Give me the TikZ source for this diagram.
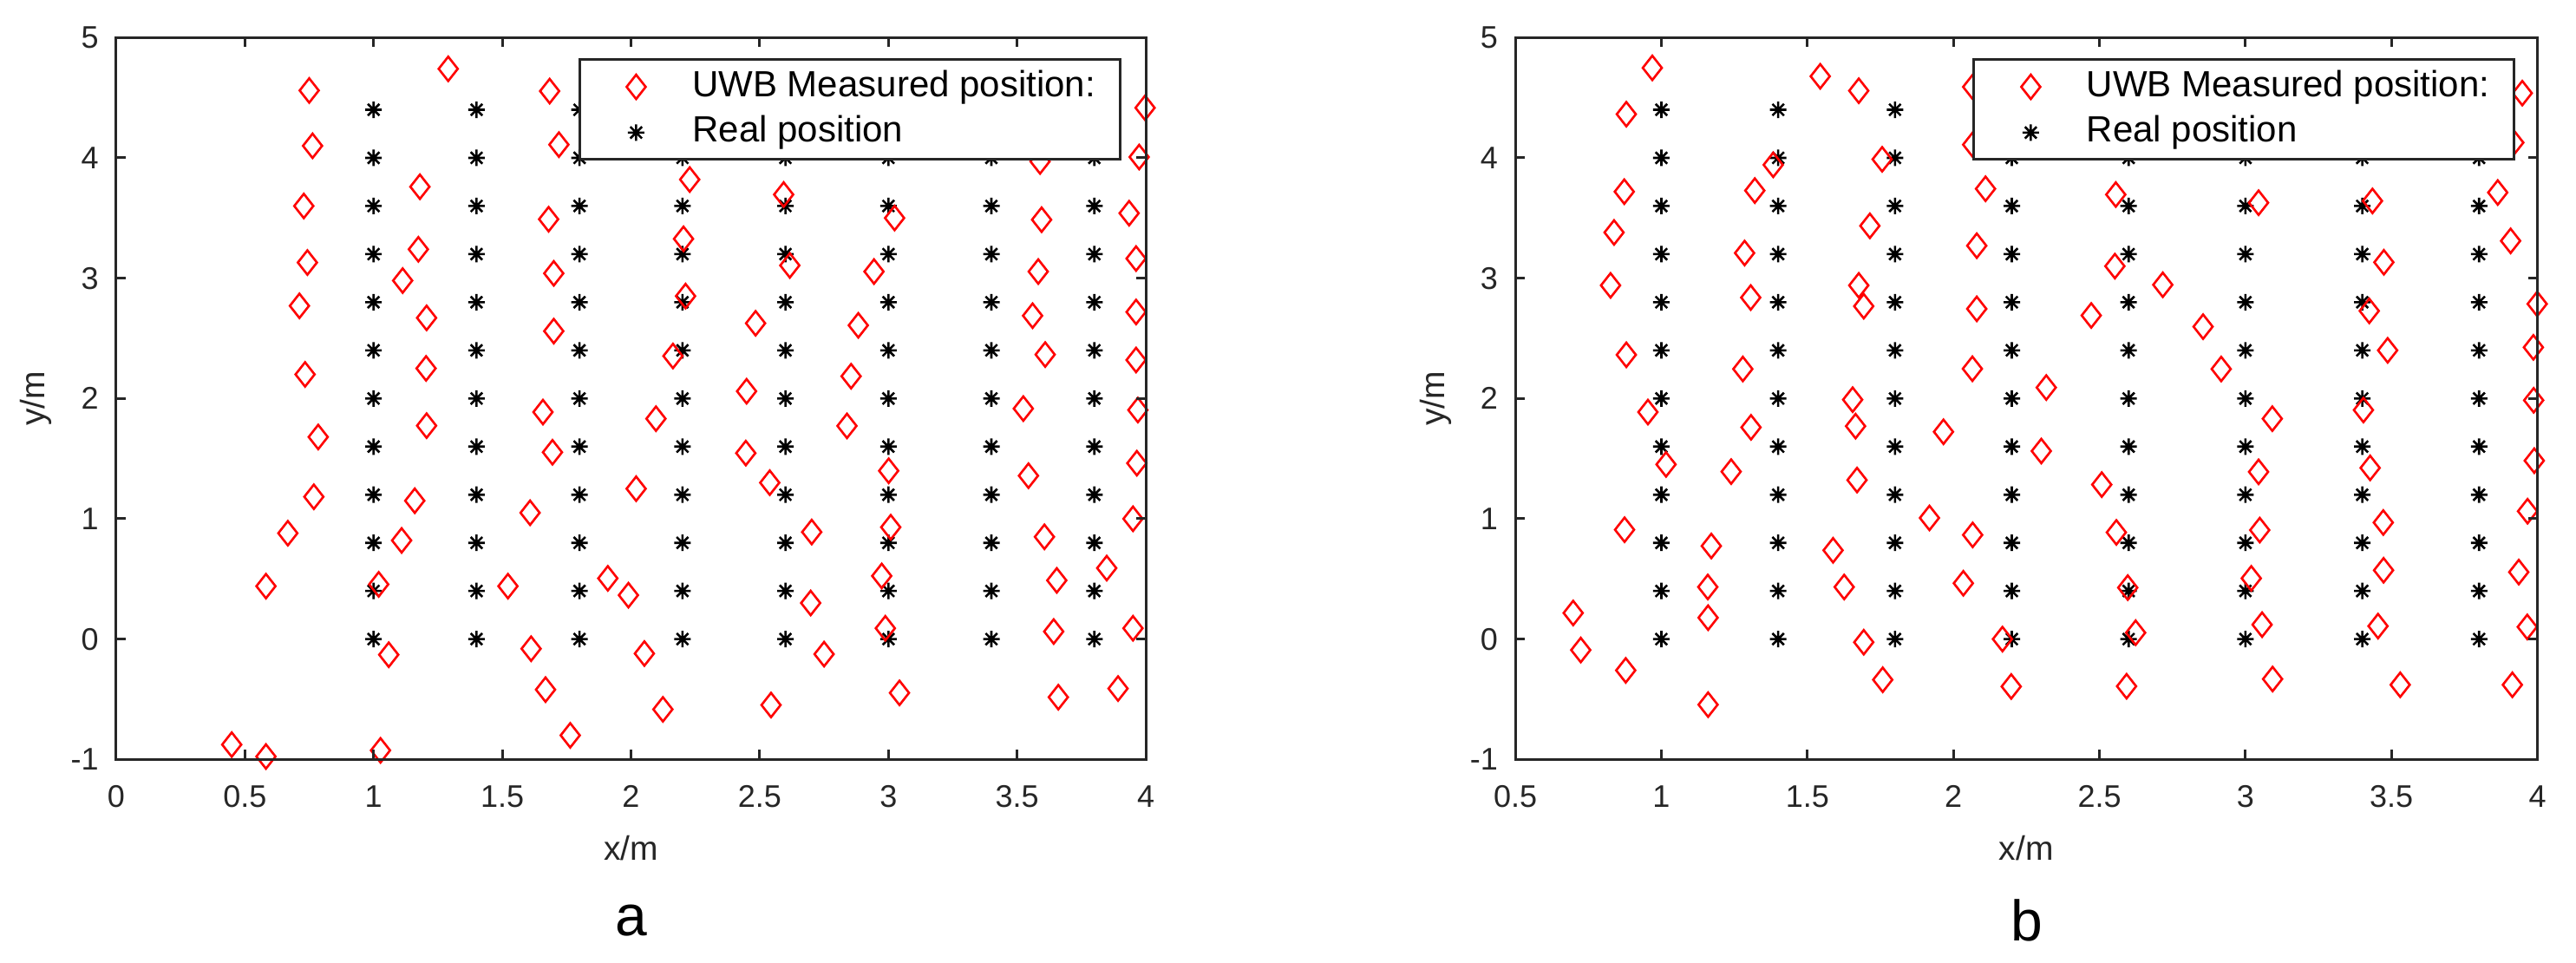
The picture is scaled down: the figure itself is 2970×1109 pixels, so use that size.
\documentclass[tikz,border=0pt]{standalone}
\usepackage{fontspec}
\setmainfont{Liberation Sans}
\definecolor{axc}{HTML}{262626}
\tikzset{
  ax/.style={draw=axc,line width=3pt},
  dm/.style={draw=red,line width=2.6pt,line join=miter},
  st/.style={draw=black,line width=2.6pt},
  tl/.style={font=\fontsize{36}{36}\selectfont,text=axc,inner sep=0pt},
  al/.style={font=\fontsize{39}{39}\selectfont,text=axc,inner sep=0pt},
  lg/.style={font=\fontsize{42}{42}\selectfont,text=black,anchor=west,inner sep=0pt},
}
\newcommand\mydm[2]{\draw[dm] (#1,#2) +(0,14pt) -- +(11pt,0) -- +(0,-14pt) -- +(-11pt,0) -- cycle;}
\newcommand\myst[2]{\draw[st] (#1,#2) +(0,9.5pt) -- +(0,-9.5pt) +(-9.5pt,0) -- +(9.5pt,0) +(6.7pt,6.7pt) -- +(-6.7pt,-6.7pt) +(-6.7pt,6.7pt) -- +(6.7pt,-6.7pt);}
\begin{document}
\begin{tikzpicture}
\useasboundingbox[fill=white] (0,0) rectangle (2970pt,1109pt);
% ---------------- left plot ----------------
\begin{scope}[shift={(133.9pt,372.35pt)},x=296.8pt,y=138.67pt]
\foreach \x in {1,1.4,1.8,2.2,2.6,3,3.4,3.8}{\foreach \y in {0,0.4,...,4.5}{\myst{\x}{\y}}}
\foreach \x/\y in {0.75/4.56,0.763/4.10,0.729/3.60,0.743/3.13,0.712/2.77,0.734/2.20,
1.29/4.74,1.18/3.76,1.174/3.24,1.113/2.98,1.206/2.67,1.204/2.25,
1.684/4.555,1.72/4.11,1.68/3.49,1.70/3.04,1.70/2.56,
1.658/1.887,1.206/1.774,0.785/1.68,1.695/1.553,0.768/1.183,1.16/1.15,1.608/1.05,0.667/0.88,1.109/0.82,
0.582/0.44,1.02/0.455,1.522/0.44,1.91/0.505,1.99/0.365,2.02/1.25,1.059/-0.13,1.612/-0.08,1.668/-0.42,
1.764/-0.80,0.449/-0.877,0.582/-0.976,1.027/-0.925,
3.997/4.416,3.974/4.007,3.589/3.97,2.228/3.82,2.593/3.695,3.024/3.50,3.595/3.486,3.935/3.54,
2.204/3.327,2.617/3.106,2.944/3.055,3.582/3.055,3.962/3.163,2.212/2.851,2.484/2.625,2.883/2.608,
3.56/2.688,3.962/2.719,2.163/2.353,2.449/2.06,2.855/2.185,3.609/2.365,3.962/2.32,
3.524/1.916,3.969/1.904,2.097/1.832,2.839/1.772,2.446/1.546,3.001/1.399,3.544/1.358,3.965/1.462,
2.539/1.30,3.009/0.93,3.95/1.0,2.702/0.89,3.606/0.85,3.848/0.59,2.974/0.525,3.654/0.488,
2.698/0.30,2.988/0.09,3.642/0.063,3.95/0.09,2.052/-0.12,2.75/-0.125,3.043/-0.447,3.66/-0.483,
3.892/-0.411,2.124/-0.584,2.544/-0.548}{\mydm{\x}{\y}}
% legend
\draw[ax,fill=white] (1.80,3.99) rectangle (3.90,4.82);
\mydm{2.02}{4.59}
\myst{2.02}{4.21}
\node[lg] at (2.238,4.59) {UWB Measured position:};
\node[lg] at (2.238,4.21) {Real position};
% axes
\draw[ax] (0,-1) rectangle (4,5);
\foreach \t in {0,0.5,1,1.5,2,2.5,3,3.5,4}{
  \draw[ax] (\t,-1) -- ++(0,11pt) (\t,5) -- ++(0,-11pt);
  \node[tl] at ([yshift=-43pt]\t,-1) {\t};}
\foreach \t in {-1,0,1,2,3,4,5}{
  \draw[ax] (0,\t) -- ++(11pt,0) (4,\t) -- ++(-11pt,0);
  \node[tl,anchor=east] at ([xshift=-20pt]0,\t) {\t};}
\node[al] at ([yshift=-102pt]2,-1) {x/m};
\node[al,rotate=90] at ([xshift=-92pt]0,2) {y/m};
\node[font=\fontsize{66}{66}\selectfont,inner sep=0pt] at ([yshift=-186pt]2,-1) {a};
\end{scope}
% ---------------- right plot ----------------
\begin{scope}[shift={(1578.75pt,372.35pt)},x=336.7pt,y=138.67pt]
\foreach \x in {1,1.4,1.8,2.2,2.6,3,3.4,3.8}{\foreach \y in {0,0.4,...,4.5}{\myst{\x}{\y}}}
\foreach \x/\y in {0.969/4.748,0.88/4.363,1.544/4.678,1.676/4.558,1.383/3.942,1.756/3.988,
0.873/3.719,1.32/3.728,0.838/3.38,1.714/3.435,1.285/3.209,0.826/2.94,1.306/2.839,1.676/2.94,
1.693/2.767,0.88/2.363,1.279/2.245,1.655/1.99,
2.066/4.59,2.066/4.11,2.11/3.743,2.08/3.27,2.08/2.745,2.065/2.247,
3.948/4.538,3.919/4.127,2.556/3.695,3.045/3.627,3.435/3.642,3.864/3.712,3.908/3.31,2.553/3.10,
2.717/2.945,3.474/3.132,2.472/2.69,3.424/2.728,3.999/2.786,2.855/2.597,3.487/2.40,3.986/2.425,
2.917/2.245,2.318/2.091,3.987/1.985,
0.954/1.887,1.307/1.76,1.665/1.77,1.966/1.723,1.016/1.452,1.239/1.392,1.67/1.322,1.918/1.007,
0.874/0.909,1.171/0.774,1.588/0.738,2.066/0.866,1.159/0.433,1.626/0.433,2.034/0.464,0.698/0.217,
1.16/0.178,0.724/-0.091,1.693/-0.026,0.878/-0.26,1.758/-0.338,1.16/-0.545,
3.092/1.832,3.404/1.904,2.301/1.563,3.989/1.483,3.045/1.39,3.427/1.423,2.508/1.284,3.966/1.063,
2.558/0.887,3.049/0.906,3.472/0.969,3.02/0.505,3.473/0.572,3.936/0.557,2.597/0.428,
3.057/0.12,3.454/0.108,3.965/0.101,2.168/0.0,2.624/0.053,2.198/-0.394,2.593/-0.392,
3.093/-0.332,3.53/-0.38,3.914/-0.38}{\mydm{\x}{\y}}
% legend
\draw[ax,fill=white] (2.07,3.99) rectangle (3.92,4.82);
\mydm{2.265}{4.59}
\myst{2.265}{4.21}
\node[lg] at (2.456,4.59) {UWB Measured position:};
\node[lg] at (2.456,4.21) {Real position};
% axes
\draw[ax] (0.5,-1) rectangle (4,5);
\foreach \t in {0.5,1,1.5,2,2.5,3,3.5,4}{
  \draw[ax] (\t,-1) -- ++(0,11pt) (\t,5) -- ++(0,-11pt);
  \node[tl] at ([yshift=-43pt]\t,-1) {\t};}
\foreach \t in {-1,0,1,2,3,4,5}{
  \draw[ax] (0.5,\t) -- ++(11pt,0) (4,\t) -- ++(-11pt,0);
  \node[tl,anchor=east] at ([xshift=-20pt]0.5,\t) {\t};}
\node[al] at ([yshift=-102pt]2.25,-1) {x/m};
\node[al,rotate=90] at ([xshift=-92pt]0.5,2) {y/m};
\node[font=\fontsize{66}{66}\selectfont,inner sep=0pt] at ([yshift=-186pt]2.25,-1) {b};
\end{scope}
\end{tikzpicture}
\end{document}
